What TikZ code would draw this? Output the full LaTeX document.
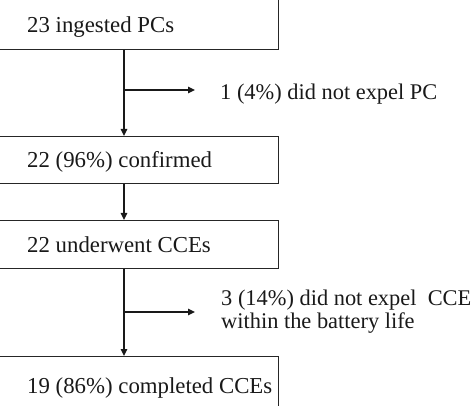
\documentclass[tikz,border=0pt]{standalone}
\usepackage{fontspec}
\setmainfont{Liberation Serif}
\usetikzlibrary{arrows.meta}
\begin{document}
\begin{tikzpicture}[x=1pt,y=-1pt,
  box/.style={draw=black!85, line width=0.9pt, rectangle, inner sep=0pt, anchor=north},
  lbl/.style={inner sep=0pt, anchor=base west, font=\fontsize{22.8}{23}\selectfont, text=black!90},
  side/.style={lbl, font=\fontsize{22.4}{23}\selectfont},
  arr/.style={draw=black!90, line width=1.4pt, -{Triangle[length=7pt,width=6.5pt]}}]
\useasboundingbox (0,0) rectangle (474,406);
% boxes (extend beyond the left edge as in the reference)
\node[box, minimum width=308pt, minimum height=89pt] (b1) at (124,-40) {};
\node[box, minimum width=308pt, minimum height=47pt] (b2) at (124,136) {};
\node[box, minimum width=308pt, minimum height=48pt] (b3) at (124,220) {};
\node[box, minimum width=308pt, minimum height=80pt] (b4) at (124,356) {};
% box texts
\node[lbl] (t1) at (27,33) {23 ingested PCs};
\node[lbl] (t2) at (27,168) {22 (96\%) confirmed};
\node[lbl] (t3) at (27,253) {22 underwent CCEs};
\node[lbl] (t4) at (27,393) {19 (86\%) completed CCEs};
% side texts
\node[side] (s1) at (220,100) {1 (4\%) did not expel PC};
\node[side, align=left, anchor=north west] (s2) at (221,290) {3 (14\%) did not expel\ \ CCE\\within the battery life};
% connectors
\draw[arr] (b1.south) -- (b2.north);
\draw[arr] (b2.south) -- (b3.north);
\draw[arr] (b3.south) -- (b4.north);
\coordinate (j1) at (124,90);
\coordinate (e1) at (195,90);
\coordinate (j2) at (124,312);
\coordinate (e2) at (195,312);
\draw[arr] (j1) -- (e1);
\draw[arr] (j2) -- (e2);
\end{tikzpicture}
\end{document}
